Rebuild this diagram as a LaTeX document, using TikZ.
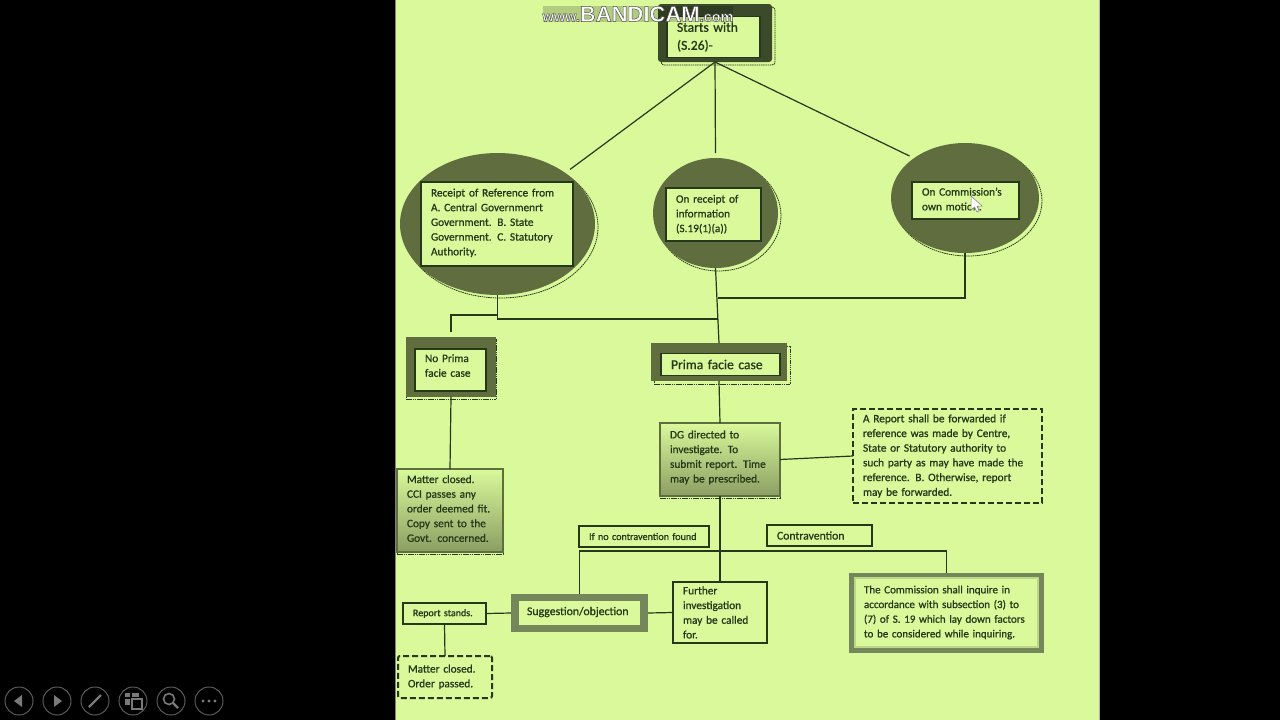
\documentclass[tikz,border=0pt]{standalone}
\usepackage{fontspec}
\setmainfont{Carlito}[FakeBold=0.9]
\newfontfamily\markfont{Liberation Sans}
\usetikzlibrary{arrows.meta,calc,positioning,shapes.geometric,shadows}
\definecolor{pagegreen}{HTML}{D9F99A}
\definecolor{inkdark}{HTML}{26381A}
\definecolor{olivedark}{HTML}{5F6D3F}
\definecolor{olivesoft}{HTML}{74875A}
\definecolor{oliveshade}{HTML}{8B9E63}
\definecolor{framedark}{HTML}{3A4A2A}
\definecolor{barline}{HTML}{5A5A5A}
\definecolor{barfill}{HTML}{7A7A7A}
\newcommand{\outlinetext}[1]{\special{pdf:code 2 Tr 0.3 G 0.45 w}#1\special{pdf:code 0 Tr}}
\newcommand{\lift}[1]{\\[\dimexpr#1pt-\baselineskip\relax]\mbox{}}

\begin{document}
\begin{tikzpicture}[x=1pt,y=-1pt,>=Latex,font=\fontsize{11.3}{14.7}\selectfont,text=inkdark]
    \tikzstyle{link}=[draw=inkdark,line width=1.2pt]
    \tikzstyle{dots}=[general shadow={shadow xshift=3pt,shadow yshift=-3pt,fill=pagegreen,draw=inkdark,line width=.8pt,dash pattern=on 1.5pt off .7pt}]
    \tikzstyle{dotb}=[general shadow={shadow xshift=0pt,shadow yshift=-2.5pt,fill=pagegreen,draw=inkdark,line width=.8pt,dash pattern=on 1.5pt off .7pt}]
    \tikzstyle{tbox}=[draw=inkdark,fill=pagegreen,line width=1.2pt,align=left,inner xsep=10pt,inner ysep=0pt,outer sep=0pt]
    \tikzstyle{fbox}=[minimum width=#1,rectangle,outer sep=0pt,inner sep=0pt]
    \tikzstyle{oval}=[ellipse,fill=olivedark,inner sep=0pt,outer sep=0pt,dots]
    \tikzstyle{gbox}=[tbox,draw=olivedark,top color=pagegreen,middle color=pagegreen,bottom color=oliveshade,dotb]
    \tikzstyle{dbox}=[tbox,line width=2pt,dash pattern=on 6pt off 3pt]
    \tikzstyle{bbtn}=[circle,draw=barline,line width=1pt,minimum size=28pt,inner sep=0pt]

    % screen and slide
    \fill[black] (0,0) rectangle (1280,720);
    \useasboundingbox (0,0) rectangle (1280,720);
    \fill[pagegreen] (395,0) rectangle (1100,720);
    \draw[gray,line width=1pt] (395.5,0) -- (395.5,720);
    \draw[gray!60,line width=1pt] (1099.5,0) -- (1099.5,720);

    % top
    \node[fbox=114pt,minimum height=58pt,fill=framedark,rounded corners=3pt,dots] (startframe) at (715,33) {};
    \node[tbox,text width=73pt,minimum height=41pt,font=\fontsize{13.6}{18}\selectfont] (start) at (713.5,37) {Starts with\\(S.26)-};

    % three sources
    \node[oval,minimum width=195pt,minimum height=142pt] (refer) at (497.5,224) {};
    \node[tbox,text width=132pt,minimum height=84pt] (refertext) at (497,224) {Receipt of Reference from\\A. Central Governmenrt\\Government. B. State\\Government. C. Statutory\\Authority.\lift{4}};
    \node[oval,minimum width=125pt,minimum height=110pt] (info) at (715.5,213) {};
    \node[tbox,text width=75pt,minimum height=53pt] (infotext) at (713.5,214.5) {On receipt of\\information\\(S.19(1)(a))\lift{2}};
    \node[oval,minimum width=148pt,minimum height=110pt] (motion) at (965,198) {};
    \node[tbox,text width=87pt,minimum height=37pt] (motiontext) at (965.5,200.5) {On Commission's\\own motion.\lift{3}};

    % outcome
    \node[fbox=90pt,minimum height=60pt,fill=olivedark,dotb] (noframe) at (451,367) {};
    \node[tbox,text width=51pt,minimum height=42pt] (noprima) at (450.5,370) {No Prima\\facie case\lift{9}};
    \node[fbox=136pt,minimum height=38pt,fill=olivedark,dots] (primaframe) at (719,362) {};
    \node[tbox,text width=99pt,minimum height=22pt,font=\fontsize{13.6}{15}\selectfont] (prima) at (720.5,364.5) {Prima facie case};
    \node[gbox,text width=100pt,minimum height=73pt] (dg) at (720,459.5) {DG directed to\\investigate. To\\submit report. Time\\may be prescribed.\lift{6}};
    \node[dbox,text width=169pt,minimum height=94pt] (report) at (947.5,456) {A Report shall be forwarded if\\reference was made by Centre,\\State or Statutory authority to\\such party as may have made the\\reference. B. Otherwise, report\\may be forwarded.};
    \node[gbox,text width=86pt,minimum height=83pt] (closed) at (450,510.5) {Matter closed.\\CCI passes any\\order deemed fit.\\Copy sent to the\\Govt. concerned.\lift{4}};

    % after the report
    \node[tbox,text width=110pt,minimum height=21pt,font=\fontsize{10.1}{12}\selectfont] (nofound) at (644,536.5) {If no contravention found};
    \node[tbox,text width=85pt,minimum height=21pt,font=\fontsize{11.7}{14}\selectfont] (contra) at (819.5,535.5) {Contravention};
    \node[fbox=195pt,minimum height=80pt,fill=olivesoft] (inquireframe) at (946.5,613) {};
    \node[tbox,draw=pagegreen!70!olivesoft,inner xsep=9pt,text width=165pt,minimum height=69pt,font=\fontsize{11}{14.7}\selectfont] (inquire) at (946.5,612.5) {The Commission shall inquire in\\accordance with subsection (3) to\\(7) of S. 19 which lay down factors\\to be considered while inquiring.};
    \node[fbox=137pt,minimum height=38pt,fill=olivesoft] (suggestframe) at (579.5,613) {};
    \node[tbox,draw=none,inner xsep=8pt,text width=105pt,minimum height=24pt,font=\fontsize{11.8}{14}\selectfont] (suggest) at (579.5,613) {Suggestion/objection\lift{4}};
    \node[tbox,text width=74pt,minimum height=61pt] (further) at (720,612.5) {Further\\investigation\\may be called\\for.};
    \node[tbox,text width=63pt,minimum height=21pt,font=\fontsize{10}{12}\selectfont] (stands) at (444.5,613.5) {Report stands.};
    \node[dbox,text width=74pt,minimum height=42pt,rounded corners=2pt] (order) at (445,677) {Matter closed.\\Order passed.\lift{2}};

    \coordinate (mergetop) at (718,298);
    \coordinate (mergelow) at (718,319);
    \coordinate (nosplit) at (497,315);
    \coordinate (branch) at (719,551);

    \draw[link,shorten >=6pt] (startframe.south) -- (refer.37);
    \draw[link,shorten >=5pt] (startframe.south) -- (info.north);
    \draw[link,shorten >=5pt] (startframe.south) -- (motion.142);
    \draw[link] (info.south) -- (primaframe.north);
    \draw[link] (motion.south) |- (mergetop);
    \draw[link] (refer.south) |- (mergelow);
    \draw[link,shorten >=5pt] (nosplit) -| (noframe.north);
    \draw[link] (noframe.south) -- (closed.north);
    \draw[link] (primaframe.south) -- (dg.north);
    \draw[link] (dg.east) -- (report.west);
    \draw[link] (dg.south) -- (further.north);
    \draw[link] (branch) -| (suggestframe.north);
    \draw[link] (branch) -| (inquireframe.north);
    \draw[link] (suggestframe.east) -- (further.west);
    \draw[link] (stands.east) -- (suggestframe.west);
    \draw[link] (stands.south) -- (order.north);

    % pointer
    \filldraw[white,draw=gray,line width=.5pt] (971,196) -- (971,210) -- (974.5,207) -- (977,212) -- (979,211) -- (977,206) -- (982,206) -- cycle;

    % recorder mark
    \node[inner sep=0pt,fill=black,fill opacity=.18,text opacity=1,text=white,font=\markfont\bfseries] (mark) at (638,14) {\outlinetext{\fontsize{14.5}{16}\selectfont www.\fontsize{22}{24}\selectfont BANDICAM\fontsize{14.5}{16}\selectfont .com}};

    % slide show buttons
    \foreach \bx/\bname in {19/prev,57/next,95/pen,133/grid,171/find,209/more}
      \node[bbtn] (\bname) at (\bx,701) {};
    \fill[barfill] ($(prev)+(-5,0)$) -- ($(prev)+(3,-6)$) -- ($(prev)+(3,6)$) -- cycle;
    \fill[barfill] ($(next)+(5,0)$) -- ($(next)+(-3,-6)$) -- ($(next)+(-3,6)$) -- cycle;
    \draw[barfill,line width=2.2pt] ($(pen)+(-6,6)$) -- ($(pen)+(6,-6)$);
    \fill[barfill] ($(grid)+(-8,-8)$) rectangle ($(grid)+(-3,-4)$);
    \fill[barfill] ($(grid)+(-1,-8)$) rectangle ($(grid)+(6,-4)$);
    \fill[barfill] ($(grid)+(-8,-2)$) rectangle ($(grid)+(-3,4)$);
    \draw[barfill,line width=1.2pt] ($(grid)+(-1,-2)$) rectangle ($(grid)+(9,8)$);
    \draw[barfill,line width=1.6pt] ($(find)+(-2,-2)$) circle (5.5pt);
    \draw[barfill,line width=2.2pt] ($(find)+(2,2)$) -- ($(find)+(7,7)$);
    \foreach \dx in {-6,0,6}
      \fill[barfill] ($(more)+(\dx,0)$) circle (1.7pt);
\end{tikzpicture}
\end{document}
